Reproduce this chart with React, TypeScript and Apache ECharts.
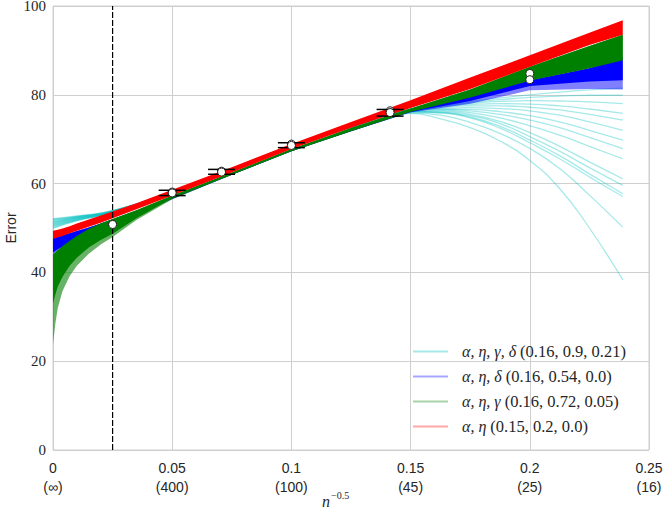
import React, { useEffect, useRef } from 'react';
import * as echarts from 'echarts';

// ---------- data ----------
const bandXs = [0, 0.001, 0.002, 0.004, 0.007, 0.01, 0.015, 0.02, 0.025, 0.035, 0.05, 0.075, 0.1, 0.125, 0.15, 0.175, 0.2, 0.225, 0.239];

const redUpper = [49.4, 49.5, 49.6, 49.9, 50.4, 51.0, 51.9, 52.8, 53.7, 55.6, 58.6, 63.7, 68.9, 73.9, 78.8, 83.9, 88.9, 94.0, 96.8];
const redLower = [47.6, 47.7, 47.9, 48.2, 48.8, 49.4, 50.3, 51.2, 52.2, 54.2, 57.3, 62.5, 67.8, 72.6, 77.0, 81.3, 86.3, 91.2, 93.5];

const greenUpper = [44.0, 44.5, 45.0, 45.9, 47.1, 48.2, 49.8, 51.0, 52.0, 54.0, 57.3, 62.5, 67.8, 72.5, 76.9, 81.2, 86.3, 91.0, 93.5];
const greenCoreLower = [33.0, 35.0, 36.8, 39.0, 41.5, 43.3, 45.6, 47.3, 48.7, 52.2, 56.7, 62.0, 67.3, 71.8, 76.2, 79.4, 83.2, 86.0, 87.8];
const greenLower = [23.9, 28.5, 32.0, 35.8, 39.2, 41.5, 44.2, 46.3, 48.0, 51.8, 56.5, 62.0, 67.3, 71.8, 76.2, 79.4, 83.2, 86.0, 87.8];

const blueUpper = [47.9, 48.0, 48.1, 48.4, 48.8, 49.3, 50.1, 51.0, 51.9, 53.9, 57.1, 62.4, 67.7, 72.3, 76.6, 79.6, 83.3, 86.0, 88.3];
const blueCoreLower = [44.5, 44.8, 45.2, 45.8, 46.7, 47.6, 48.8, 49.8, 50.8, 53.0, 56.6, 62.0, 67.3, 71.8, 76.1, 78.6, 82.0, 83.0, 83.3];
const blueLower = [43.8, 44.1, 44.5, 45.0, 46.0, 47.0, 48.3, 49.4, 50.5, 52.8, 56.5, 62.0, 67.3, 71.8, 76.0, 78.0, 81.0, 81.3, 81.2];

const cyanXs = [0, 0.01, 0.025, 0.05, 0.075, 0.1, 0.125, 0.15, 0.1625, 0.175, 0.1875, 0.2, 0.2125, 0.225, 0.239];
const cyan1 = [52.1, 52.7, 53.9, 58.2, 63.4, 68.6, 73.0, 76.8, 77.7, 78.5, 79.3, 80.0, 80.6, 81.1, 81.5];
const cyan2 = [52.0, 52.6, 53.9, 58.2, 63.4, 68.6, 73.0, 76.8, 77.6, 78.3, 78.9, 79.4, 79.7, 79.9, 79.9];
const cyan3 = [51.8, 52.5, 53.8, 58.2, 63.3, 68.5, 72.9, 76.7, 77.5, 78.1, 78.5, 78.7, 78.6, 78.4, 78.0];
const cyan4 = [51.7, 52.5, 53.8, 58.1, 63.3, 68.5, 72.9, 76.7, 77.4, 77.8, 78.0, 77.9, 77.5, 76.8, 75.8];
const cyan5 = [51.5, 52.4, 53.8, 58.1, 63.3, 68.5, 72.9, 76.6, 77.2, 77.5, 77.5, 77.2, 76.6, 75.6, 74.3];
const cyan6 = [51.4, 52.3, 53.7, 58.1, 63.3, 68.5, 72.8, 76.6, 77.0, 77.1, 76.9, 76.4, 75.4, 73.9, 72.0];
const cyan7 = [51.2, 52.2, 53.7, 58.1, 63.2, 68.4, 72.8, 76.5, 76.8, 76.7, 76.2, 75.3, 73.9, 72.0, 69.8];
const cyan8 = [51.1, 52.2, 53.7, 58.1, 63.2, 68.4, 72.8, 76.5, 76.7, 76.4, 75.6, 74.3, 72.6, 70.4, 67.9];
const cyan9 = [50.9, 52.1, 53.6, 58.1, 63.2, 68.4, 72.7, 76.4, 76.5, 76.0, 74.8, 73.0, 70.9, 68.4, 65.6];
const cyan10 = [50.8, 52.0, 53.6, 58.0, 63.2, 68.4, 72.7, 76.3, 76.3, 75.6, 74.0, 71.5, 68.4, 64.9, 61.1];
const cyan11 = [50.6, 51.9, 53.6, 58.0, 63.2, 68.4, 72.7, 76.2, 76.1, 75.3, 73.5, 70.6, 67.3, 63.6, 59.6];
const cyan12 = [50.5, 51.9, 53.5, 58.0, 63.1, 68.3, 72.7, 76.2, 76.0, 75.0, 72.9, 69.8, 66.3, 62.2, 57.7];
const cyan13 = [50.3, 51.8, 53.5, 58.0, 63.1, 68.3, 72.6, 76.1, 75.9, 74.8, 72.5, 69.2, 65.6, 61.5, 57.1];
const cyan14 = [50.1, 51.7, 53.5, 58.0, 63.1, 68.3, 72.6, 75.9, 75.4, 73.8, 71.3, 67.9, 63.4, 57.4, 50.2];
const cyan15 = [49.9, 51.6, 53.4, 58.0, 63.1, 68.3, 72.6, 75.8, 74.6, 72.6, 69.6, 65.2, 58.9, 50.0, 38.3];
const cyanLines = [cyan1, cyan2, cyan3, cyan4, cyan5, cyan6, cyan7, cyan8, cyan9, cyan10, cyan11, cyan12, cyan13, cyan14, cyan15];

const pointXs = [0.025, 0.05, 0.0707, 0.1, 0.1414, 0.2];
const pointYs = [50.8, 57.9, 62.6, 68.6, 76.0, 83.4];
const pointLow = [50.8, 57.3, 62.1, 68.1, 75.2, 83.4];
const pointHigh = [50.8, 58.5, 63.2, 69.2, 76.7, 83.4];
const pointYsBack = [50.8, 58.1, 62.8, 68.9, 76.4, 84.8];

const vlineX = 0.025;

const xTickValues = [0, 0.05, 0.1, 0.15, 0.2, 0.25];
const xTickLabels = ['0\n(∞)', '0.05\n(400)', '0.1\n(100)', '0.15\n(45)', '0.2\n(25)', '0.25\n(16)'];

const yAxisTitle = 'Error';
const xAxisTitleBase = 'n';
const xAxisTitleSup = '−0.5';

const legendLabels = [
  'α, η, γ, δ (0.16, 0.9, 0.21)',
  'α, η, δ (0.16, 0.54, 0.0)',
  'α, η, γ (0.16, 0.72, 0.05)',
  'α, η (0.15, 0.2, 0.0)',
];

// ---------- helpers ----------
const SERIF = 'Liberation Serif';
const SANS = 'Liberation Sans';
const TEXT = '#262626';

function band(name: string, upper: number[], lower: number[], color: string, opacity: number, z: number) {
  return {
    type: 'custom',
    name,
    z,
    silent: true,
    data: [[bandXs[0], upper[0]]],
    renderItem: (_p: any, api: any) => {
      const pts: number[][] = [];
      for (let i = 0; i < bandXs.length; i++) pts.push(api.coord([bandXs[i], upper[i]]));
      for (let i = bandXs.length - 1; i >= 0; i--) pts.push(api.coord([bandXs[i], lower[i]]));
      return { type: 'polygon', shape: { points: pts }, style: { fill: color, opacity } };
    },
  };
}

export default function App() {
  const ref = useRef<HTMLDivElement>(null);
  useEffect(() => {
    const chart = echarts.init(ref.current!, null, { renderer: 'svg' });

    const cyanSeries = cyanLines.map((vals) => ({
      type: 'line',
      name: legendLabels[0],
      z: 1,
      silent: true,
      symbol: 'none',
      smooth: true,
      data: cyanXs.map((x, i) => [x, vals[i]]),
      lineStyle: { color: '#00bfbf', width: 1.3, opacity: 0.35 },
      itemStyle: { color: '#00bfbf' },
    }));

    const option: any = {
      animation: false,
      grid: {
        left: 53, right: 17, top: 6, bottom: 59,
        outerBoundsMode: 'none', containLabel: false,
        show: true, borderColor: '#cfcfcf', borderWidth: 1, backgroundColor: 'transparent',
      },
      graphic: [
        {
          type: 'text',
          x: 11,
          y: 228,
          rotation: Math.PI / 2,
          silent: true,
          style: { text: yAxisTitle, font: '14px "Liberation Sans"', fill: TEXT, align: 'center', verticalAlign: 'middle' },
        },
        {
          type: 'text',
          x: 322,
          y: 501,
          silent: true,
          style: { text: xAxisTitleBase, font: 'italic 16px "Liberation Serif"', fill: TEXT, align: 'left', verticalAlign: 'middle' },
        },
        {
          type: 'text',
          x: 331,
          y: 495,
          silent: true,
          style: { text: xAxisTitleSup, font: '10px "Liberation Serif"', fill: TEXT, align: 'left', verticalAlign: 'middle' },
        },
      ],
      xAxis: {
        type: 'value',
        min: 0,
        max: 0.25,
        interval: 0.05,
        axisLine: { show: false },
        axisTick: { show: false },
        splitLine: { lineStyle: { color: '#cfcfcf', width: 1 } },
        axisLabel: {
          fontFamily: SANS,
          fontSize: 14,
          lineHeight: 19,
          color: TEXT,
          margin: 8,
          formatter: (v: number) => {
            const idx = xTickValues.findIndex((t) => Math.abs(t - v) < 1e-9);
            return idx >= 0 ? xTickLabels[idx] : '';
          },
        },
      },
      yAxis: {
        type: 'value',
        min: 0,
        max: 100,
        interval: 20,
        axisLine: { show: false },
        axisTick: { show: false },
        splitLine: { lineStyle: { color: '#cfcfcf', width: 1 } },
        axisLabel: { fontFamily: SERIF, fontSize: 15, lineHeight: 12, padding: [5, 0, 0, 0], color: TEXT, margin: 7 },
      },
      legend: {
        orient: 'vertical',
        left: 413,
        top: 343,
        padding: 0,
        icon: 'rect',
        itemWidth: 35,
        itemHeight: 2,
        itemGap: 8,
        selectedMode: false,
        formatter: (name: string) => {
          const k = name.indexOf(' (');
          return '{sp| }{g|' + name.slice(0, k) + '} {n|' + name.slice(k + 1) + '}';
        },
        textStyle: {
          fontFamily: SERIF,
          fontSize: 16,
          color: TEXT,
          rich: {
            sp: { width: 9 },
            g: { fontFamily: SERIF, fontStyle: 'italic', fontSize: 16, color: TEXT },
            n: { fontFamily: SERIF, fontSize: 16.5, color: TEXT },
          },
        },
        data: [
          { name: legendLabels[0], itemStyle: { color: 'rgba(0,191,191,0.35)' } },
          { name: legendLabels[1], itemStyle: { color: 'rgba(0,0,255,0.35)' } },
          { name: legendLabels[2], itemStyle: { color: 'rgba(0,128,0,0.35)' } },
          { name: legendLabels[3], itemStyle: { color: 'rgba(255,0,0,0.35)' } },
        ],
      },
      series: [
        ...cyanSeries,
        band(legendLabels[1], blueUpper, blueLower, '#0000ff', 0.5, 2),
        band(legendLabels[1], blueUpper, blueCoreLower, '#0000ff', 1, 2),
        band(legendLabels[2], greenUpper, greenLower, '#008000', 0.6, 3),
        band(legendLabels[2], greenUpper, greenCoreLower, '#008000', 1, 3),
        band(legendLabels[3], redUpper, redLower, '#ff0000', 1, 4),
        {
          type: 'line',
          name: 'vline',
          z: 5,
          silent: true,
          symbol: 'none',
          data: [[vlineX, 0], [vlineX, 100]],
          lineStyle: { color: '#000000', width: 1.2, type: [6, 2] },
        },
        {
          type: 'custom',
          name: 'points',
          z: 6,
          silent: true,
          data: pointXs.map((x, i) => [x, pointYs[i], pointLow[i], pointHigh[i], pointYsBack[i]]),
          renderItem: (_p: any, api: any) => {
            const x = api.value(0);
            const c = api.coord([x, api.value(1)]);
            const lo = api.coord([x, api.value(2)]);
            const hi = api.coord([x, api.value(3)]);
            const back = api.coord([x, api.value(4)]);
            const children: any[] = [];
            children.push({ type: 'circle', shape: { cx: back[0], cy: back[1], r: 4 }, style: { fill: '#ffffff', stroke: '#222', lineWidth: 1 } });
            if (Math.abs(hi[1] - lo[1]) > 0.5) {
              children.push({ type: 'line', shape: { x1: lo[0], y1: lo[1], x2: hi[0], y2: hi[1] }, style: { stroke: '#000', lineWidth: 1.5 } });
              children.push({ type: 'line', shape: { x1: lo[0] - 13.5, y1: lo[1], x2: lo[0] + 13.5, y2: lo[1] }, style: { stroke: '#000', lineWidth: 1.5 } });
              children.push({ type: 'line', shape: { x1: hi[0] - 13.5, y1: hi[1], x2: hi[0] + 13.5, y2: hi[1] }, style: { stroke: '#000', lineWidth: 1.5 } });
            }
            children.push({ type: 'circle', shape: { cx: c[0], cy: c[1], r: 4 }, style: { fill: '#ffffff', stroke: '#222', lineWidth: 1 } });
            return { type: 'group', children };
          },
        },
      ],
    };

    chart.setOption(option);
    return () => chart.dispose();
  }, []);

  return <div ref={ref} style={{ position: 'absolute', left: 0, top: 0, width: 666, height: 509 }} />;
}
